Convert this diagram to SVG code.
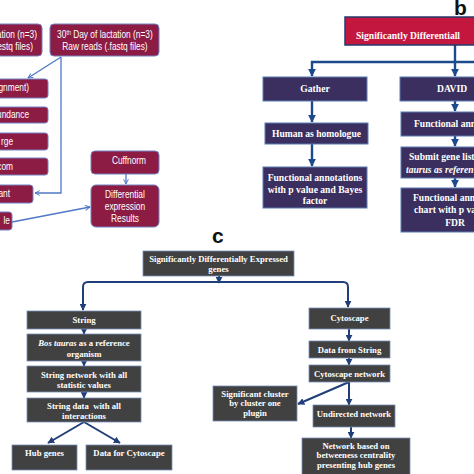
<svg xmlns="http://www.w3.org/2000/svg" width="474" height="474" viewBox="0 0 474 474">
<defs>
<style>
.a-box{fill:#8C1C44;stroke:#7480C0;stroke-width:1}
.a-txt{font-family:"Liberation Sans",Arial,sans-serif;font-size:10.2px;fill:#ffffff}
.a-con{fill:none;stroke:#4F78C8;stroke-width:1.3}
.b-top{fill:#C4173F;stroke:#233B6E;stroke-width:1.5}
.b-box{fill:#3A2F5E;stroke:#5B7DB5;stroke-width:1}
.b-txt{font-family:"Liberation Serif","Times New Roman",serif;font-weight:bold;font-size:9.6px;fill:#ffffff}
.b-con{fill:none;stroke:#1D4A8C;stroke-width:2.4}
.c-box{fill:#414141;stroke:#7890B8;stroke-width:0.8}
.c-txt{font-family:"Liberation Serif","Times New Roman",serif;font-weight:bold;font-size:8.7px;fill:#ffffff}
.c-con{fill:none;stroke:#1F3E7A;stroke-width:2}
.lbl{font-family:"Liberation Sans",Arial,sans-serif;font-weight:bold;font-size:21px;fill:#111111}
</style>
<marker id="ma" viewBox="0 0 10 10" refX="9" refY="5" markerWidth="6" markerHeight="6" orient="auto" markerUnits="userSpaceOnUse">
<path d="M1,1 L9,5 L1,9" fill="none" stroke="#4F78C8" stroke-width="1.6"/>
</marker>
<marker id="mb" viewBox="0 0 10 10" refX="9" refY="5" markerWidth="8" markerHeight="8" orient="auto" markerUnits="userSpaceOnUse">
<path d="M0,0 L10,5 L0,10 Z" fill="#1D4A8C"/>
</marker>
<marker id="mc" viewBox="0 0 10 10" refX="9" refY="5" markerWidth="7" markerHeight="7" orient="auto" markerUnits="userSpaceOnUse">
<path d="M0,0 L10,5 L0,10 Z" fill="#1F3E7A"/>
</marker>
</defs>
<rect width="474" height="474" fill="#ffffff"/>

<!-- Panel a -->
<g id="a-connectors">
<path class="a-con" d="M61,57 L28,78" marker-end="url(#ma)"/>
<path class="a-con" d="M61,57 L61,193 L35,193" marker-end="url(#ma)"/>
<path class="a-con" d="M12,222 L90,207" marker-end="url(#ma)"/>
<path class="a-con" d="M126,174 L126,184" marker-end="url(#ma)"/>
</g>
<g id="a-day1">
<rect class="a-box" x="-10" y="24" width="52" height="32" rx="4"/>
<text class="a-txt" transform="scale(0.82 1)" text-anchor="end"><tspan x="45.1" y="38.5">ation (n=3)</tspan><tspan x="40.2" y="50.5">estq files)</tspan></text>
</g>
<g id="a-day30">
<rect class="a-box" x="50" y="24" width="109" height="32" rx="4"/>
<text class="a-txt" transform="scale(0.82 1)" text-anchor="middle"><tspan x="128" y="38.5">30<tspan font-size="6.5px" dy="-3.5">th</tspan><tspan dy="3.5"> Day of lactation (n=3)</tspan></tspan><tspan x="128" y="50.5">Raw reads (.fastq files)</tspan></text>
</g>
<g id="a-align">
<rect class="a-box" x="-10" y="79" width="58" height="19" rx="3"/>
<text class="a-txt" transform="scale(0.82 1)" text-anchor="end" x="35.4" y="91.5">gnment)</text>
</g>
<g id="a-abund">
<rect class="a-box" x="-10" y="107" width="58" height="16" rx="3"/>
<text class="a-txt" transform="scale(0.82 1)" text-anchor="end" x="35.4" y="118">undance</text>
</g>
<g id="a-merge">
<rect class="a-box" x="-10" y="133" width="58" height="17" rx="3"/>
<text class="a-txt" transform="scale(0.82 1)" text-anchor="end" x="15.9" y="145">rge</text>
</g>
<g id="a-com">
<rect class="a-box" x="-10" y="158" width="58" height="17" rx="3"/>
<text class="a-txt" transform="scale(0.82 1)" text-anchor="end" x="15.9" y="170">com</text>
</g>
<g id="a-ant">
<rect class="a-box" x="-10" y="185" width="43" height="18" rx="3"/>
<text class="a-txt" transform="scale(0.82 1)" text-anchor="end" x="12.2" y="197.5">ant</text>
</g>
<g id="a-le">
<rect class="a-box" x="-10" y="212" width="22" height="18" rx="3"/>
<text class="a-txt" transform="scale(0.82 1)" text-anchor="end" x="12.2" y="224.5">le</text>
</g>
<g id="a-cuffnorm">
<rect class="a-box" x="91" y="151" width="68" height="23" rx="4"/>
<text class="a-txt" transform="scale(0.82 1)" text-anchor="middle" x="157.3" y="164.5">Cuffnorm</text>
</g>
<g id="a-diff">
<rect class="a-box" x="91" y="185" width="68" height="42" rx="5"/>
<text class="a-txt" transform="scale(0.82 1)" text-anchor="middle"><tspan x="152.4" y="198.5">Differential</tspan><tspan x="152.4" y="210.5">expression</tspan><tspan x="152.4" y="222.5">Results</tspan></text>
</g>

<!-- Panel b -->
<text class="lbl" x="454" y="15">b</text>
<g id="b-connectors">
<path class="b-con" d="M455,45 L455,76" marker-end="url(#mb)"/>
<path class="b-con" d="M480,62 L312,62 L312,76" marker-end="url(#mb)"/>
<path class="b-con" d="M312,101 L312,122" marker-end="url(#mb)"/>
<path class="b-con" d="M312,144 L312,166" marker-end="url(#mb)"/>
<path class="b-con" d="M455,101 L455,111" marker-end="url(#mb)"/>
<path class="b-con" d="M455,136 L455,146" marker-end="url(#mb)"/>
<path class="b-con" d="M455,178 L455,187" marker-end="url(#mb)"/>
</g>
<g id="b-top">
<rect class="b-top" x="345" y="17" width="140" height="28"/>
<text class="b-txt" font-size="12px" x="356" y="39">Significantly Differentiall</text>
</g>
<g id="b-gather">
<rect class="b-box" x="263" y="77" width="104" height="24"/>
<text class="b-txt" text-anchor="middle" x="315" y="92">Gather</text>
</g>
<g id="b-david">
<rect class="b-box" x="400" y="77" width="85" height="24"/>
<text class="b-txt" x="437" y="92">DAVID</text>
</g>
<g id="b-human">
<rect class="b-box" x="265" y="123" width="103" height="21"/>
<text class="b-txt" text-anchor="middle" x="316.5" y="136.5">Human as homologue</text>
</g>
<g id="b-func1">
<rect class="b-box" x="263" y="167" width="104" height="41"/>
<text class="b-txt" text-anchor="middle"><tspan x="315" y="180.5">Functional annotations</tspan><tspan x="315" y="192.5">with p value and Bayes</tspan><tspan x="315" y="203.5">factor</tspan></text>
</g>
<g id="b-func2">
<rect class="b-box" x="401" y="112" width="84" height="24"/>
<text class="b-txt" x="414" y="127">Functional ann</text>
</g>
<g id="b-submit">
<rect class="b-box" x="401" y="147" width="84" height="31"/>
<text class="b-txt"><tspan x="409" y="159.5">Submit gene list</tspan><tspan x="406" y="173" font-style="italic">taurus as referen</tspan></text>
</g>
<g id="b-chart">
<rect class="b-box" x="401" y="188" width="84" height="44"/>
<text class="b-txt"><tspan x="413" y="200.5">Functional ann</tspan><tspan x="414" y="213">chart with p va</tspan><tspan x="455" y="225.5" text-anchor="middle">FDR</tspan></text>
</g>

<!-- Panel c -->
<text class="lbl" x="212" y="243">c</text>
<g id="c-connectors">
<path class="c-con" d="M219,276 L219,283" marker-end="url(#mc)"/>
<path class="c-con" d="M219,282 L88,282 Q83,282 83,287 L83,310" marker-end="url(#mc)"/>
<path class="c-con" d="M219,282 L343,282 Q348,282 348,287 L348,307" marker-end="url(#mc)"/>
<path class="c-con" d="M84,329 L84,334" marker-end="url(#mc)"/>
<path class="c-con" d="M84,361 L84,366" marker-end="url(#mc)"/>
<path class="c-con" d="M84,392 L84,398" marker-end="url(#mc)"/>
<path class="c-con" d="M84,422 L48,443" marker-end="url(#mc)"/>
<path class="c-con" d="M84,422 L120,443" marker-end="url(#mc)"/>
<path class="c-con" d="M349,329 L349,341" marker-end="url(#mc)"/>
<path class="c-con" d="M349,358 L349,365" marker-end="url(#mc)"/>
<path class="c-con" d="M349,382 L349,405" marker-end="url(#mc)"/>
<path class="c-con" d="M349,382 L298,404" marker-end="url(#mc)"/>
<path class="c-con" d="M351,427 L351,438" marker-end="url(#mc)"/>
</g>
<g id="c-top">
<rect class="c-box" x="143" y="251" width="151" height="25"/>
<text class="c-txt" text-anchor="middle"><tspan x="218.5" y="261.5">Significantly Differentially Expressed</tspan><tspan x="218.5" y="271.5">genes</tspan></text>
</g>
<g id="c-string">
<rect class="c-box" x="27" y="311" width="114" height="18"/>
<text class="c-txt" text-anchor="middle" x="84" y="323">String</text>
</g>
<g id="c-bos">
<rect class="c-box" x="27" y="334" width="114" height="27"/>
<text class="c-txt" text-anchor="middle"><tspan x="84" y="346"><tspan font-style="italic">Bos tauras</tspan> as a reference</tspan><tspan x="84" y="357">organism</tspan></text>
</g>
<g id="c-strnet">
<rect class="c-box" x="27" y="366" width="114" height="26"/>
<text class="c-txt" text-anchor="middle"><tspan x="84" y="377.5">String network with all</tspan><tspan x="84" y="387.5">statistic values</tspan></text>
</g>
<g id="c-strdata">
<rect class="c-box" x="27" y="398" width="114" height="24"/>
<text class="c-txt" text-anchor="middle"><tspan x="84" y="409" xml:space="preserve">String data  with all</tspan><tspan x="84" y="419">interactions</tspan></text>
</g>
<g id="c-hub">
<rect class="c-box" x="12" y="445" width="65" height="25"/>
<text class="c-txt" text-anchor="middle" x="44.5" y="456">Hub genes</text>
</g>
<g id="c-datacyto">
<rect class="c-box" x="86" y="445" width="86" height="25"/>
<text class="c-txt" text-anchor="middle" x="129" y="456">Data for Cytoscape</text>
</g>
<g id="c-cytoscape">
<rect class="c-box" x="309" y="308" width="81" height="21"/>
<text class="c-txt" text-anchor="middle" x="349.5" y="320.5">Cytoscape</text>
</g>
<g id="c-datafrom">
<rect class="c-box" x="309" y="341" width="81" height="17"/>
<text class="c-txt" text-anchor="middle" x="349.5" y="352.5">Data from String</text>
</g>
<g id="c-cytonet">
<rect class="c-box" x="309" y="365" width="81" height="17"/>
<text class="c-txt" text-anchor="middle" x="349.5" y="376.5">Cytoscape network</text>
</g>
<g id="c-cluster">
<rect class="c-box" x="213" y="386" width="84" height="35"/>
<text class="c-txt" text-anchor="middle"><tspan x="255" y="396.5">Significant cluster</tspan><tspan x="255" y="406">by cluster one</tspan><tspan x="255" y="415.5">plugin</tspan></text>
</g>
<g id="c-undirected">
<rect class="c-box" x="313" y="405" width="82" height="22"/>
<text class="c-txt" text-anchor="middle" x="354" y="416.5">Undirected network</text>
</g>
<g id="c-betweenness">
<rect class="c-box" x="302" y="438" width="108" height="38"/>
<text class="c-txt" text-anchor="middle"><tspan x="356" y="448.5">Network based on</tspan><tspan x="356" y="458">betweeness centrality</tspan><tspan x="356" y="467.5">presenting hub genes</tspan></text>
</g>
</svg>
